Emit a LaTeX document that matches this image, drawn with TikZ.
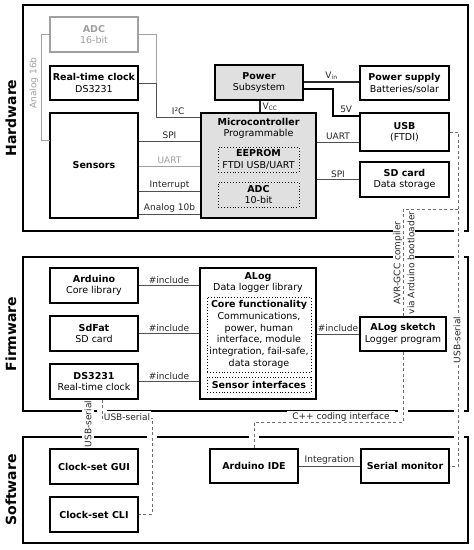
\documentclass[tikz,border=0pt]{standalone}
\usepackage{fontspec}
\setmainfont{DejaVu Sans}
\usetikzlibrary{calc}
\definecolor{lgray}{HTML}{A0A0A0}
\definecolor{fillg}{HTML}{E0E0E0}
\definecolor{connc}{HTML}{505050}
\definecolor{dashc}{HTML}{6E6E6E}
\newcommand\bxfont{\fontsize{9.5}{11.7}\selectfont}
\newcommand\lbfont{\fontsize{9}{11}\selectfont}
\tikzset{
  frame/.style={draw=black, line width=2.4pt},
  seclbl/.style={rotate=90, font=\fontsize{14}{16}\selectfont\bfseries},
  box/.style={draw=black, line width=1.2pt, fill=white, minimum width=88pt, minimum height=35pt, align=center, inner sep=0pt, font=\bxfont},
  gbox/.style={box, fill=fillg},
  dbox/.style={draw=black, dotted, line width=0.9pt, align=center, inner sep=0pt, font=\bxfont},
  conn/.style={draw=connc, line width=0.9pt},
  gconn/.style={draw=lgray, line width=0.9pt},
  dconn/.style={draw=dashc, dashed, dash pattern=on 3pt off 2.5pt, line width=0.9pt},
  halo/.style={draw=white, line width=10pt},
  lbl/.style={font=\lbfont, inner sep=1.5pt, text=black!85},
  wlbl/.style={lbl, fill=white},
}
\begin{document}
\begin{tikzpicture}[x=1pt,y=-1pt]
\useasboundingbox (0,0) rectangle (474,550);

% section frames
\draw[frame] (23,5) rectangle (468,231);
\draw[frame] (23,257) rectangle (468,411);
\draw[frame] (23,437) rectangle (468,543);
\node[seclbl] (hwlbl) at (11,118) {Hardware};
\node[seclbl] (fwlbl) at (11,334) {Firmware};
\node[seclbl] (swlbl) at (11,490) {Software};

% node positions (boxes drawn later, coordinates needed now)
\path
  (94,34.5) coordinate (adcP)
  (94,83) coordinate (rtcP);

% ---------- boxes (invisible placeholders for naming first) ----------
\node[box, draw=lgray, text=lgray, minimum height=35pt] (adc) at (94,34.5) {\textbf{ADC}\\16-bit};
\node[box, minimum height=34pt] (rtc) at (94,83) {\textbf{Real-time clock}\\DS3231};
\node[box, minimum height=105pt] (sensors) at (94,165.5) {\textbf{Sensors}};
\node[gbox, minimum height=35pt] (power) at (259,82.5) {\textbf{Power}\\Subsystem};
\node[box, minimum width=89pt, minimum height=34pt] (psupply) at (404.5,83) {\textbf{Power supply}\\Batteries/solar};
\node[box, minimum width=89pt, minimum height=38pt] (usb) at (404.5,132) {\textbf{USB}\\(FTDI)};
\node[box, minimum width=89pt, minimum height=35pt] (sdcard) at (404.5,179.5) {\textbf{SD card}\\Data storage};

\node[box] (arduino) at (94,285.5) {\textbf{Arduino}\\Core library};
\node[box] (sdfat) at (94,333.5) {\textbf{SdFat}\\SD card};
\node[box] (ds) at (94,381.5) {\textbf{DS3231}\\Real-time clock};
\node[box, minimum width=86pt, minimum height=34pt] (sketch) at (403,334) {\textbf{ALog sketch}\\Logger program};

\node[box] (gui) at (94,466.5) {\textbf{Clock-set GUI}};
\node[box] (cli) at (94,514.5) {\textbf{Clock-set CLI}};
\node[box, minimum height=34pt] (ide) at (254,466) {\textbf{Arduino IDE}};
\node[box, minimum height=34pt] (serial) at (405,466) {\textbf{Serial monitor}};

% ---------- dashed connectors: halos ----------
\coordinate (avrend) at (458,209);
\coordinate (cppc) at (254,422);
\coordinate (clic) at (152,418);
\draw[halo] (usb.east) -- ++(9,0) |- (serial.east);
\draw[halo] (sketch.north) |- (avrend);
\draw[halo] (sketch.south) |- (cppc) -- (ide.north);
\draw[halo] ($(ds.south)+(-6,0)$) -- ($(gui.north)+(-6,0)$);
\draw[halo] ($(ds.south)+(8,0)$) |- (clic) |- (cli.east);

\node[wlbl, anchor=base, inner xsep=5pt, inner ysep=1pt] (cpplbl) at (341,419) {C++ coding interface};

% ---------- dashed connectors ----------
\draw[dconn] (usb.east) -- ++(9,0) |- (serial.east);
\draw[dconn] (sketch.north) |- (avrend);
\draw[dconn] (sketch.south) |- (cppc) -- (ide.north);
\draw[dconn] ($(ds.south)+(-6,0)$) -- ($(gui.north)+(-6,0)$);
\draw[dconn] ($(ds.south)+(8,0)$) |- (clic) |- (cli.east);

\node[wlbl, rotate=90, inner xsep=1pt, inner ysep=1pt] (usbser1) at (457,340) {USB-serial};
\node[wlbl, rotate=90, inner xsep=1pt, inner ysep=3pt] (usbser2) at (88,424) {USB-serial};
\node[wlbl, inner xsep=1pt, inner ysep=3pt] (usbser3) at (127,417) {USB-serial};
\node[wlbl, rotate=90, inner xsep=2pt, inner ysep=0.8pt] (avr1) at (398,263) {AVR-GCC compiler};
\node[wlbl, rotate=90, inner xsep=2pt, inner ysep=0.8pt] (avr2) at (411,263) {via Arduino bootloader};

% redraw boxes touched by halos / labels
\node[box] at (ds) {\textbf{DS3231}\\Real-time clock};
\node[box] at (gui) {\textbf{Clock-set GUI}};
\node[box] at (cli) {\textbf{Clock-set CLI}};
\node[box, minimum width=86pt, minimum height=34pt] at (sketch) {\textbf{ALog sketch}\\Logger program};
\node[box, minimum height=34pt] at (ide) {\textbf{Arduino IDE}};
\node[box, minimum height=34pt] at (serial) {\textbf{Serial monitor}};
\node[box, minimum width=89pt, minimum height=38pt] at (usb) {\textbf{USB}\\(FTDI)};

% ---------- microcontroller ----------
\node[gbox, minimum width=115pt, minimum height=105pt] (micro) at (258.5,165.5) {};
\node[font=\bxfont, align=center, inner sep=0pt] (microtitle) at (258.5,128.5) {\textbf{Microcontroller}\\Programmable};
\node[dbox, fill=fillg, minimum width=81pt, minimum height=25pt] (eeprom) at (258.5,159.5) {\textbf{EEPROM}\\FTDI USB/UART};
\node[dbox, fill=fillg, minimum width=81pt, minimum height=25pt] (adcin) at (258.5,194.5) {\textbf{ADC}\\10-bit};

% ---------- ALog library ----------
\node[box, minimum width=116pt, minimum height=131pt] (alog) at (258,333.5) {};
\node[font=\bxfont, align=center, inner sep=0pt] (alogtitle) at (258,282.5) {\textbf{ALog}\\Data logger library};
\node[dbox, fill=white, minimum width=104pt, minimum height=75pt] (core) at (259,334.5) {\textbf{Core functionality}\\Communications,\\power, human\\interface, module\\integration, fail-safe,\\data storage};
\node[dbox, fill=white, minimum width=104pt, minimum height=15pt] (sensint) at (259,384.5) {\textbf{Sensor interfaces}};

% ---------- hardware connectors ----------
\coordinate (s16) at (50,140);
\draw[gconn] (adc.west) -- ++(-8,0) |- (s16);
\node[lbl, rotate=90, text=lgray] (a16lbl) at (34,83) {Analog 16b};
\coordinate (i2cc) at (156,117);
\draw[gconn] (adc.east) -| (i2cc |- rtc.east);
\draw[conn] (rtc.east) -| (i2cc) -- (micro.west |- i2cc) node[lbl, midway, above] {I²C};
\draw[conn] (sensors.east |- 0,141) -- (micro.west |- 0,141) node[lbl, midway, above] {SPI};
\draw[gconn] (sensors.east |- 0,166) -- (micro.west |- 0,166) node[lbl, midway, above, text=lgray] {UART};
\draw[conn] (sensors.east |- 0,191) -- (micro.west |- 0,191) node[lbl, midway, above] {Interrupt};
\draw[conn] (sensors.east |- 0,214) -- (micro.west |- 0,214) node[lbl, midway, above] {Analog 10b};

\draw[conn, draw=black!85, line width=2pt] (power.south -| 260,0) -- (micro.north -| 260,0) node[lbl, midway, right] {V\textsubscript{CC}};
\draw[conn, draw=black!85, line width=1.8pt] (power.east |- 0,82) -- (psupply.west |- 0,82) node[lbl, midway, above] {V\textsubscript{in}};
\coordinate (fivec) at (333,89);
\draw[draw=black, line width=2.8pt] (power.east |- fivec) -- (fivec) |- (usb.west |- 0,116) node[lbl, pos=0.75, above] {5V};
\draw[conn] (micro.east |- 0,142) -- (usb.west |- 0,142) node[lbl, midway, above] {UART};
\draw[conn] (micro.east |- sdcard.west) -- (sdcard.west) node[lbl, midway, above] {SPI};

% ---------- firmware connectors ----------
\draw[conn] (arduino.east) -- (alog.west |- arduino.east) node[lbl, midway, above] {\#include};
\draw[conn] (sdfat.east) -- (alog.west |- sdfat.east) node[lbl, midway, above] {\#include};
\draw[conn] (ds.east) -- (alog.west |- ds.east) node[lbl, midway, above] {\#include};
\draw[conn] (alog.east |- sketch.west) -- (sketch.west) node[lbl, midway, above] {\#include};

% ---------- software connectors ----------
\draw[conn] (ide.east) -- (serial.west) node[lbl, midway, above] {Integration};
\end{tikzpicture}
\end{document}
